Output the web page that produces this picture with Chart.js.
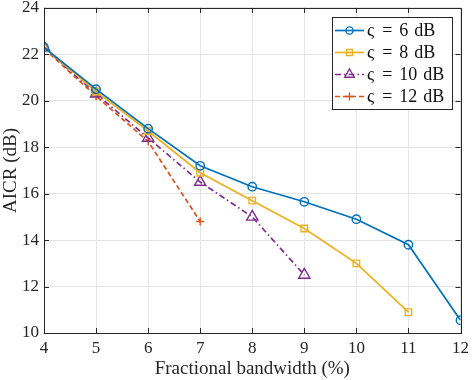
<!DOCTYPE html>
<html><head><meta charset="utf-8">
<script src="https://cdn.jsdelivr.net/npm/chart.js@4"></script>
<style>html,body{margin:0;padding:0;background:#fff}#wrap{width:474px;height:380px}</style>
</head><body><div id="wrap"><canvas id="c" width="474" height="380"></canvas></div>
<script>
const xValues = [4, 5, 6, 7, 8, 9, 10, 11, 12];
const series6 = [22.3, 20.5, 18.8, 17.2, 16.3, 15.65, 14.9, 13.8, 10.55];
const series8 = [22.3, 20.4, 18.7, 16.9, 15.7, 14.5, 13.0, 10.9];
const series10 = [22.3, 20.3, 18.4, 16.5, 15.0, 12.5];
const series12 = [22.25, 20.2, 18.25, 14.8];
const seriesLabels = ['ς = 6 dB', 'ς = 8 dB', 'ς = 10 dB', 'ς = 12 dB'];
const xTicks = [4, 5, 6, 7, 8, 9, 10, 11, 12];
const yTicks = [10, 12, 14, 16, 18, 20, 22, 24];

const SERIF = '"Liberation Serif", "DejaVu Serif", serif';
const pts = arr => arr.map((v, i) => ({x: xValues[i], y: v}));

const ds = [
  {label: seriesLabels[0], data: pts(series6), borderColor: '#0072BD', pointStyle: 'circle', pointRadius: 4.2, legendRadius: 3.6, borderDash: []},
  {label: seriesLabels[1], data: pts(series8), borderColor: '#EDB120', pointStyle: 'rect', pointRadius: 4.6, legendRadius: 4.2, borderDash: []},
  {label: seriesLabels[2], data: pts(series10), borderColor: '#7E2F8E', pointStyle: 'triangle', pointRadius: 6.5, legendRadius: 5.5, borderDash: [6, 3, 1.5, 3]},
  {label: seriesLabels[3], data: pts(series12), borderColor: '#D95319', pointStyle: 'cross', pointRadius: 4, legendRadius: 4, borderDash: [5, 3]}
].map(d => Object.assign(d, {
  backgroundColor: 'rgba(0,0,0,0)', pointBackgroundColor: 'rgba(0,0,0,0)',
  pointBorderColor: d.borderColor, borderWidth: 1.7, pointBorderWidth: 1.4, tension: 0
}));

const frame = {
  id: 'frame',
  afterDraw(chart) {
    const {ctx, chartArea: a, scales: {x, y}} = chart;
    ctx.save();
    ctx.strokeStyle = '#262626';
    ctx.lineWidth = 1;
    ctx.strokeRect(Math.round(a.left) + 0.5, Math.round(a.top) + 0.5, Math.round(a.right - a.left), Math.round(a.bottom - a.top));
    const tl = 5;
    ctx.beginPath();
    xTicks.forEach(v => {
      const px = Math.round(x.getPixelForValue(v)) + 0.5;
      ctx.moveTo(px, a.bottom); ctx.lineTo(px, a.bottom - tl);
      ctx.moveTo(px, a.top); ctx.lineTo(px, a.top + tl);
    });
    yTicks.forEach(v => {
      const py = Math.round(y.getPixelForValue(v)) + 0.5;
      ctx.moveTo(a.left, py); ctx.lineTo(a.left + tl, py);
      ctx.moveTo(a.right, py); ctx.lineTo(a.right - tl, py);
    });
    ctx.stroke();

    // legend
    const L = 332, T = 17, R = 452, B = 109;
    ctx.fillStyle = '#fff';
    ctx.fillRect(L, T, R - L, B - T);
    ctx.strokeStyle = '#262626';
    ctx.lineWidth = 1;
    ctx.strokeRect(L + 0.5, T + 0.5, R - L, B - T);
    const rows = [30.5, 52.5, 74.5, 96.5];
    const gaps = [8, 7, 6];
    chart.data.datasets.forEach((d, i) => {
      const yy = rows[i];
      ctx.strokeStyle = d.borderColor;
      ctx.lineWidth = d.borderWidth;
      ctx.setLineDash(d.borderDash);
      ctx.beginPath(); ctx.moveTo(335, yy); ctx.lineTo(364, yy); ctx.stroke();
      ctx.setLineDash([]);
      ctx.lineWidth = d.pointBorderWidth;
      ctx.fillStyle = 'rgba(0,0,0,0)';
      Chart.helpers.drawPoint(ctx, {pointStyle: d.pointStyle, radius: d.legendRadius, borderWidth: d.pointBorderWidth}, 349.5, yy);
      ctx.fillStyle = '#111';
      ctx.font = '18px ' + SERIF;
      ctx.textBaseline = 'middle';
      ctx.textAlign = 'left';
      const parts = d.label.split(' ');
      const tokens = [parts[0], parts[1], parts[2], parts.slice(3).join(' ')];
      let xx = 367;
      tokens.forEach((t, k) => {
        ctx.fillText(t, xx, yy + 1);
        xx += ctx.measureText(t).width + (gaps[k] || 0);
      });
    });
    ctx.restore();
  }
};

new Chart(document.getElementById('c'), {
  type: 'line',
  data: {datasets: ds},
  options: {
    responsive: false,
    animation: false,
    layout: {padding: {top: 6, right: 9, left: 0, bottom: 0}},
    plugins: {legend: {display: false}, tooltip: {enabled: false}},
    scales: {
      x: {
        type: 'linear', min: 4, max: 12,
        afterBuildTicks: s => { s.ticks = xTicks.map(v => ({value: v})); },
        afterFit: s => { s.height = 47; },
        grid: {color: '#e4e4e4', drawTicks: false},
        border: {display: false},
        ticks: {color: '#262626', font: {family: SERIF, size: 17}, padding: 5, maxRotation: 0},
        title: {display: true, text: 'Fractional bandwidth (%)', color: '#262626', font: {family: SERIF, size: 19}, padding: {top: 0, bottom: 0}}
      },
      y: {
        type: 'linear', min: 10, max: 24,
        afterBuildTicks: s => { s.ticks = yTicks.map(v => ({value: v})); },
        afterFit: s => { s.width = 44; s.paddingTop = 0; s.paddingBottom = 0; },
        grid: {color: '#e4e4e4', drawTicks: false},
        border: {display: false},
        ticks: {color: '#262626', font: {family: SERIF, size: 17}, padding: 5},
        title: {display: true, text: 'AICR (dB)', color: '#262626', font: {family: SERIF, size: 19}, padding: {top: 0, bottom: 0}}
      }
    }
  },
  plugins: [frame]
});
</script>
</body></html>
